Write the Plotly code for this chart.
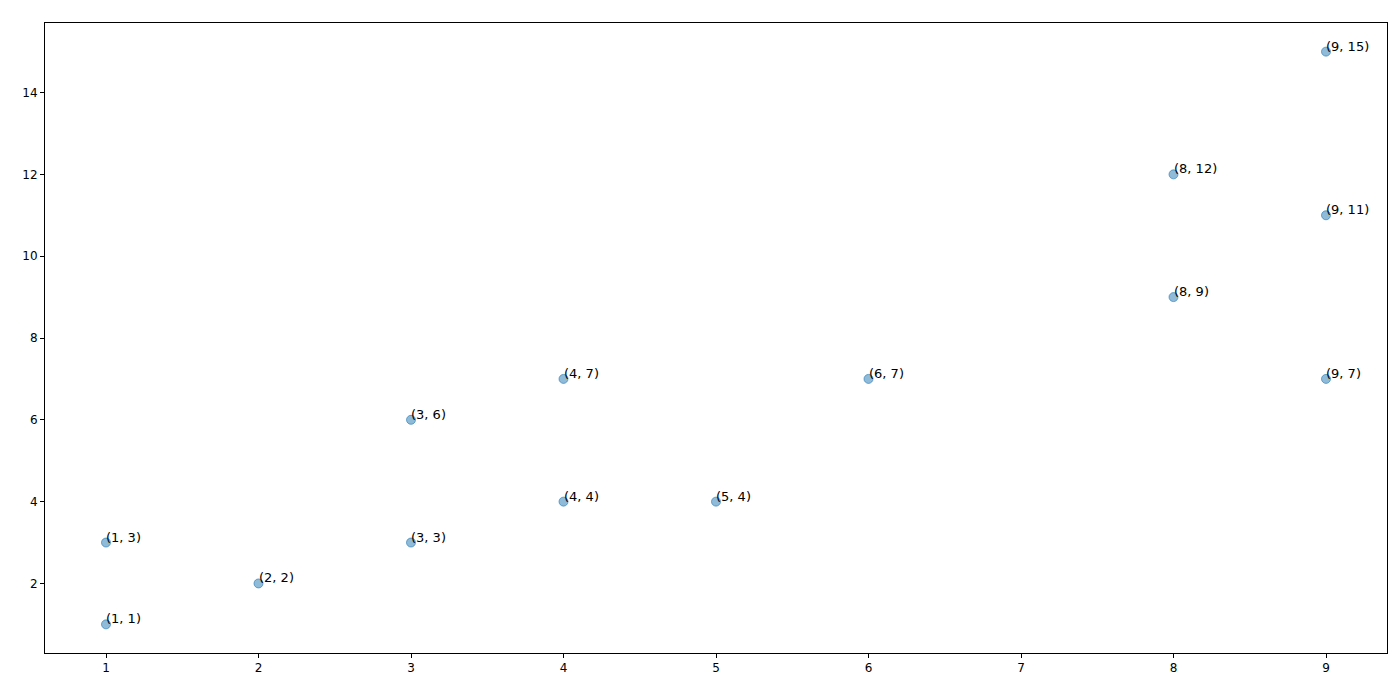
import plotly.graph_objects as go

x_vals = [1, 1, 2, 3, 3, 4, 4, 5, 6, 8, 8, 9, 9, 9]
y_vals = [1, 3, 2, 3, 6, 4, 7, 4, 7, 9, 12, 7, 11, 15]
labels = ["(%d, %d)" % (a, b) for a, b in zip(x_vals, y_vals)]

fig = go.Figure()
fig.add_trace(go.Scatter(
    x=x_vals, y=y_vals, mode="markers",
    marker=dict(size=9, color="rgba(31,119,180,0.5)",
                line=dict(width=1, color="rgba(31,119,180,0.6)")),
    hoverinfo="skip",
))

# point labels, text starts at the point like matplotlib annotate
for a, b, t in zip(x_vals, y_vals, labels):
    fig.add_annotation(x=a, y=b, text=t, showarrow=False,
                       xanchor="left", yanchor="bottom", yshift=-4, xshift=-2,
                       font=dict(family="DejaVu Sans", size=13, color="black"))

axis_style = dict(showgrid=False, zeroline=False, showline=True, linecolor="black",
                  linewidth=1, mirror=True, ticks="outside", ticklen=4, automargin=False,
                  tickcolor="black", tickfont=dict(family="DejaVu Sans", size=12, color="black"))

fig.update_xaxes(range=[0.6, 9.4], tickvals=list(range(1, 10)), **axis_style)
fig.update_yaxes(range=[0.3, 15.7], tickvals=[2, 4, 6, 8, 10, 12, 14], **axis_style)

# page body has an 8px margin, so the figure is a bit smaller than the window
fig.update_layout(
    width=1384, height=667,
    margin=dict(l=37, r=5, t=15, b=22),
    plot_bgcolor="white", paper_bgcolor="white",
    showlegend=False,
)

fig.write_html("out.html")
